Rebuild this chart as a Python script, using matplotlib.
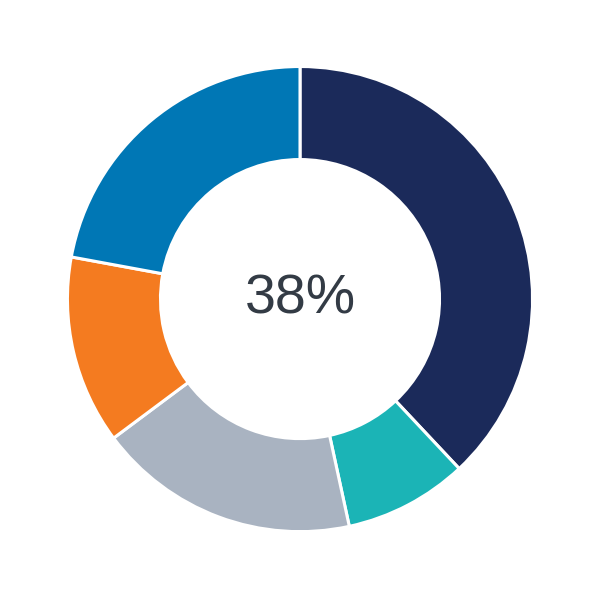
import matplotlib
matplotlib.use("Agg")
import matplotlib.pyplot as plt

categories = ["A", "B", "C", "D", "E"]
values = [38.0, 8.6, 18.2, 13.1, 22.1]
colors = ["#1b2a5a", "#1bb4b6", "#a9b3c1", "#f47b20", "#0077b5"]
center_label = "38%"

fig = plt.figure(figsize=(6, 6), dpi=100)
ax = fig.add_axes([0, 0, 1, 1])
ax.pie(values, colors=colors, startangle=90, counterclock=False,
       radius=1.0,
       wedgeprops=dict(width=0.4, edgecolor="white", linewidth=2.2))
ax.text(0, 0.0, center_label, ha="center", va="center", fontsize=40,
        color="#333b45", family=["Liberation Sans", "DejaVu Sans"])
ax.set_xlim(-1.29, 1.29)
ax.set_ylim(-1.294, 1.286)
ax.set_aspect("equal")
ax.axis("off")
fig.savefig("out.png", dpi=100, facecolor="white")
